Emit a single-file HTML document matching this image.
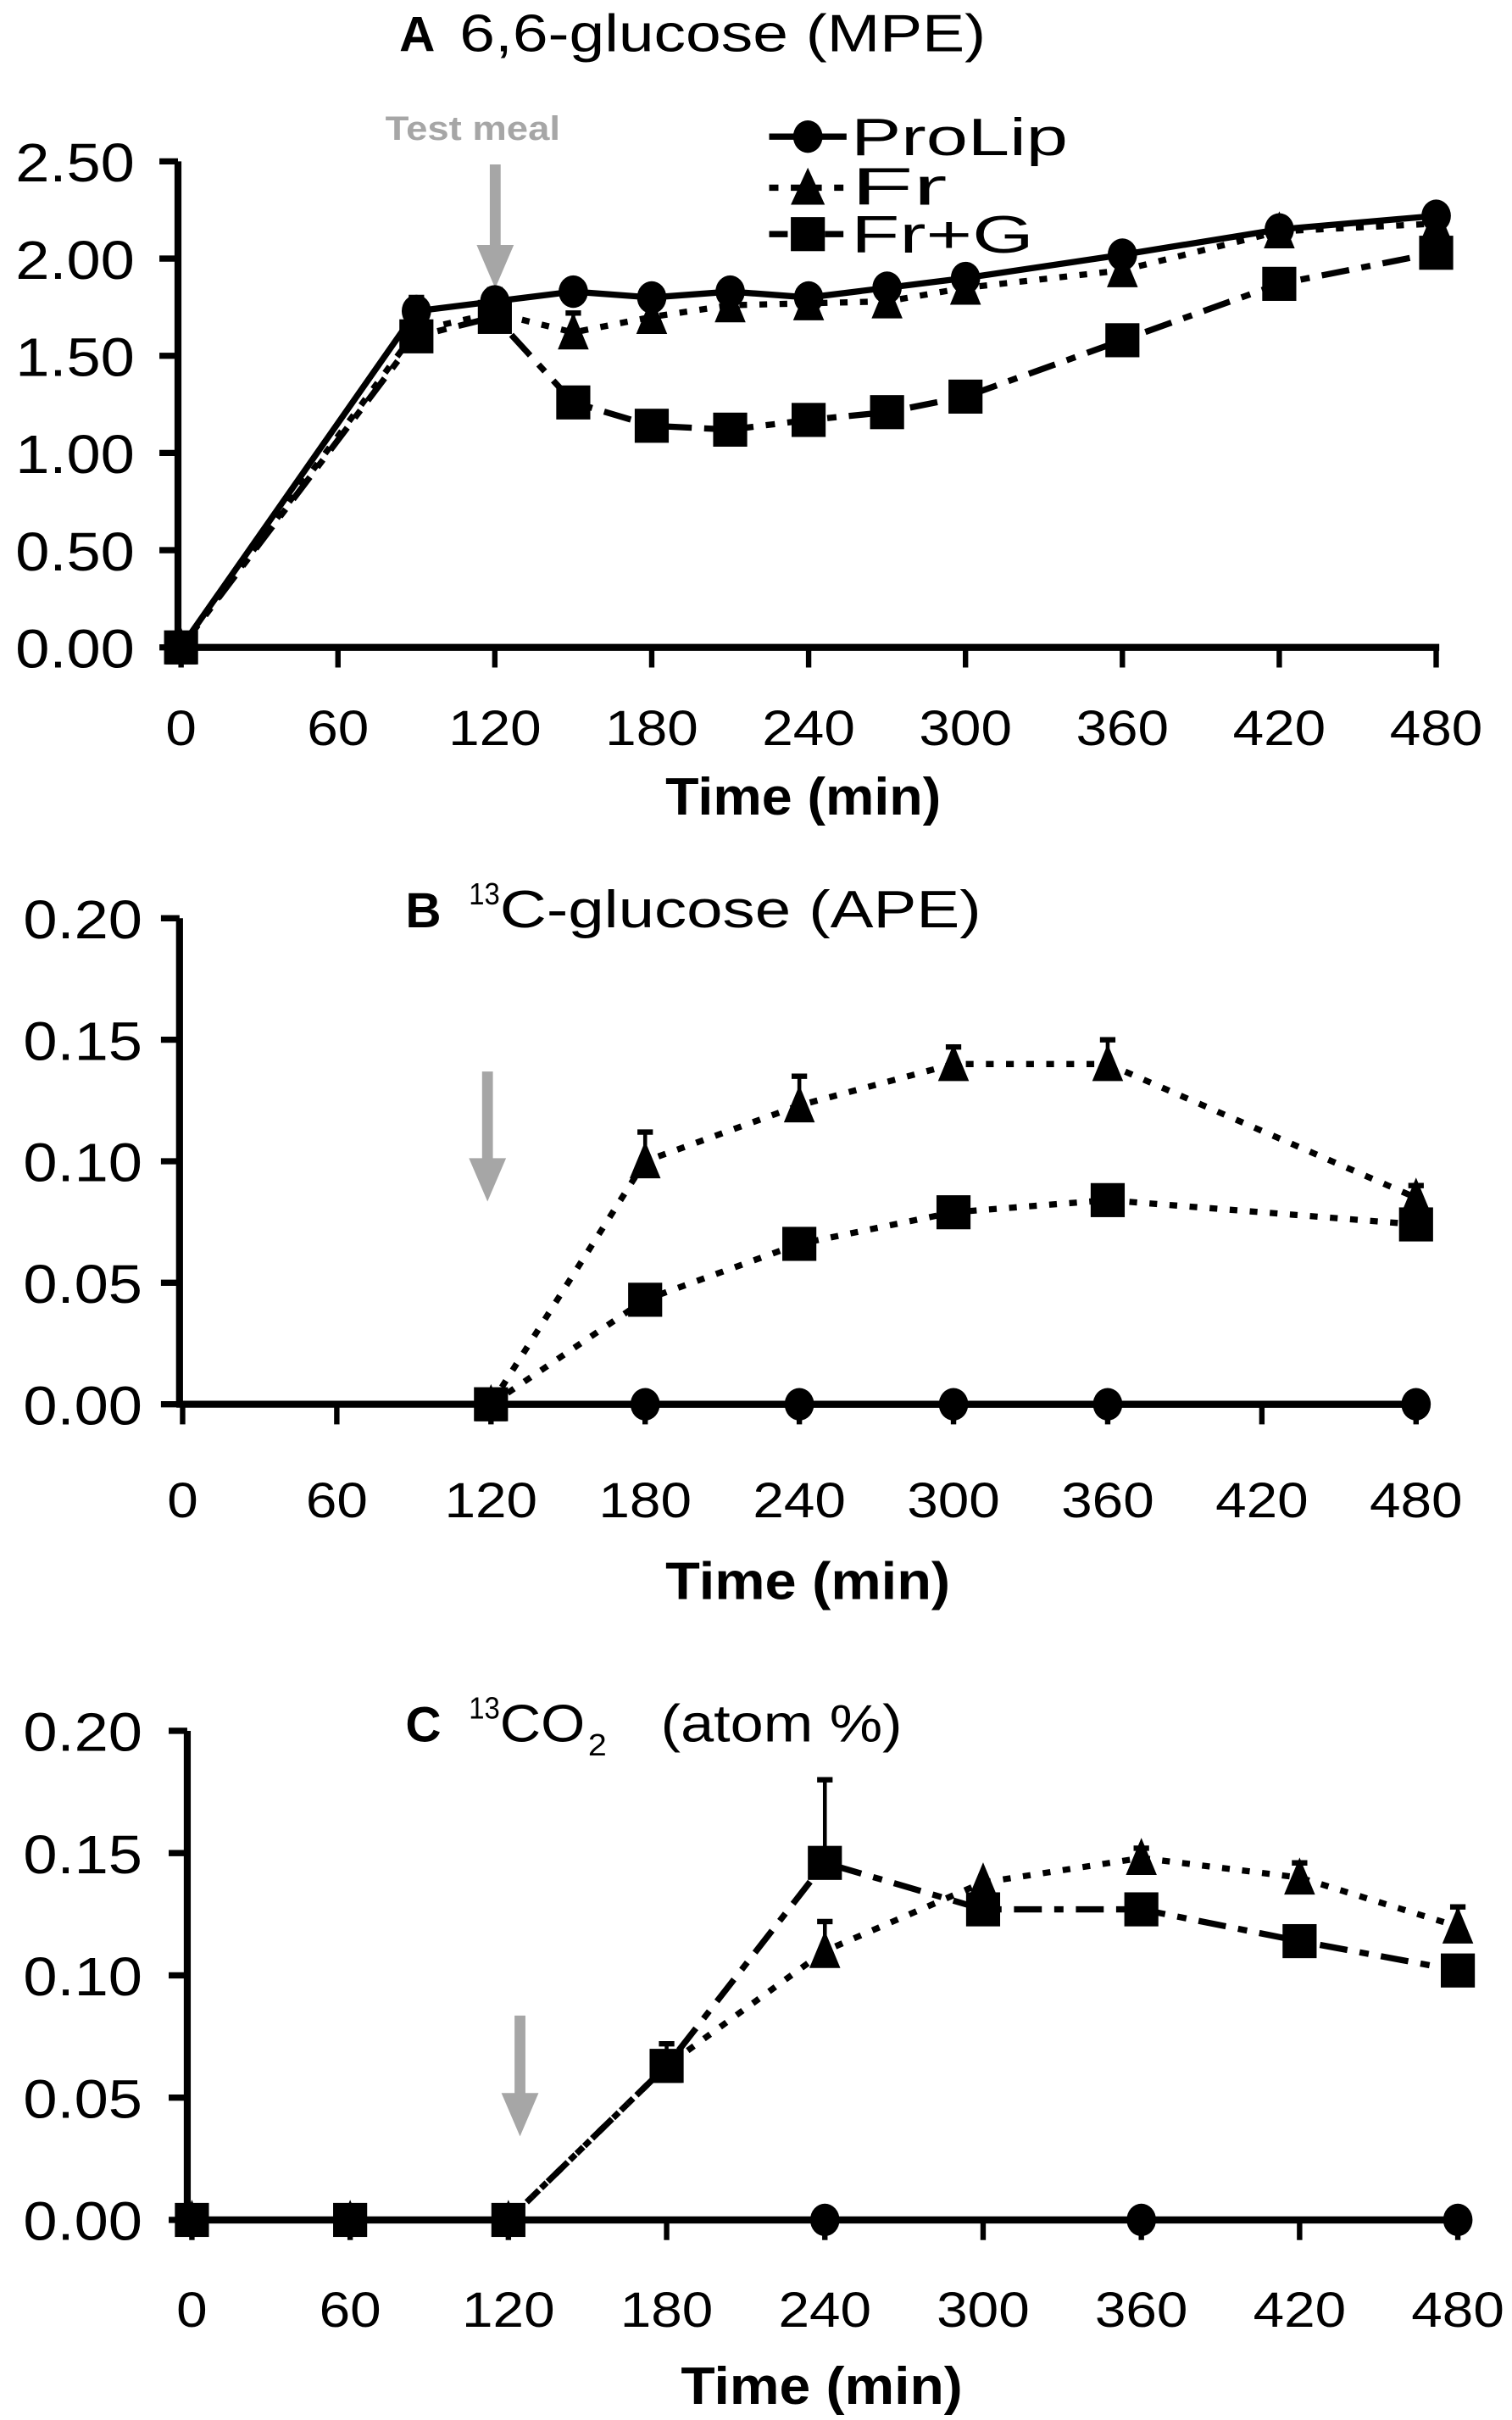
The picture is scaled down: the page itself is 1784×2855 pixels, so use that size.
<!DOCTYPE html>
<html><head><meta charset="utf-8"><style>
html,body{margin:0;padding:0;background:#fff}
svg{display:block}
text{font-family:"Liberation Sans",Arial,sans-serif;fill:#000}
</style></head><body>
<svg id="s" xmlns="http://www.w3.org/2000/svg" width="1784" height="2855" viewBox="0 0 977 1563">
<rect width="977" height="1563" fill="#fff"/>
</svg>
<script>
const S=document.getElementById('s');const NS='http://www.w3.org/2000/svg';
function el(t,a,txt){const e=document.createElementNS(NS,t);for(const k in a)e.setAttribute(k,a[k]);if(txt!==undefined)e.textContent=txt;S.appendChild(e);return e;}
function tx(x,y,s,size,len,extra){const a={x:x,y:y,'font-size':size};if(len){a.textLength=len;a.lengthAdjust='spacingAndGlyphs';}Object.assign(a,extra||{});return el('text',a,s);}
function panel(p){
 const X=t=>p.x0+t*(p.x1-p.x0)/480, Y=v=>p.y0-v*(p.y0-p.yTop)/p.vmax;
 el('line',{x1:p.ax,y1:p.yTop,x2:p.ax,y2:p.y0,stroke:'#000','stroke-width':4.5});
 el('line',{x1:p.ax-2,y1:p.y0,x2:p.x1+2,y2:p.y0,stroke:'#000','stroke-width':4.5});
 p.yt.forEach(v=>{el('line',{x1:p.ax-12,y1:Y(v),x2:p.ax,y2:Y(v),stroke:'#000','stroke-width':4});
  tx(p.lx,Y(v)+13,v.toFixed(2),35,77);});
 for(let t=0;t<=480;t+=60){el('line',{x1:X(t),y1:p.y0,x2:X(t),y2:p.y0+13,stroke:'#000','stroke-width':3.5});
  const s=String(t);const w=s.length*20;tx(X(t)-w/2,p.xl,s,32,w);}
 tx(p.tx0,p.tl,'Time (min)',34,p.tw,{'font-weight':'bold'});
 el('line',{x1:p.arx,y1:p.ar0,x2:p.arx,y2:p.ar1-24,stroke:'#a6a6a6','stroke-width':7});
 el('polygon',{points:`${p.arx-12},${p.ar1-28} ${p.arx+12},${p.ar1-28} ${p.arx},${p.ar1}`,fill:'#a6a6a6'});
 p.series.forEach(s=>{
  const pts=s.d.map(d=>[X(d[0]),Y(d[1])]);
  el('polyline',{points:pts.map(q=>q.join(',')).join(' '),fill:'none',stroke:'#000','stroke-width':s.w||4,'stroke-dasharray':s.dash||'none'});
  s.d.forEach((d,i)=>{const [x,y]=pts[i];
   if(d[2]!==undefined){const ye=Y(d[2]);el('line',{x1:x,y1:y,x2:x,y2:ye,stroke:'#000','stroke-width':2.5});el('line',{x1:x-5,y1:ye,x2:x+5,y2:ye,stroke:'#000','stroke-width':3.5});}
   if(s.m==='c')el('ellipse',{cx:x,cy:y,rx:9.5,ry:10.5,fill:'#000'});
   if(s.m==='t')el('polygon',{points:`${x},${y-13} ${x-10},${y+11} ${x+10},${y+11}`,fill:'#000'});
   if(s.m==='s')el('rect',{x:x-11,y:y-11,width:22,height:22,fill:'#000'});
  });
 });
}
const DOT='5 8',DD='18 8 6 8';
panel({ax:115,x0:117,x1:928,y0:418,yTop:104,vmax:2.5,yt:[0,0.5,1,1.5,2,2.5],lx:10,xl:481,tl:526,tx0:430,tw:178,arx:320,ar0:106,ar1:186,
 series:[
 {m:'s',dash:DD,d:[[0,0],[90,1.60],[120,1.70],[150,1.26],[180,1.14],[210,1.12],[240,1.17],[270,1.21],[300,1.29],[360,1.58],[420,1.87],[480,2.03]]},
 {m:'t',dash:DOT,d:[[0,0],[90,1.63],[120,1.72],[150,1.62,1.72],[180,1.70],[210,1.76],[240,1.77],[270,1.78],[300,1.85],[360,1.94],[420,2.14],[480,2.18]]},
 {m:'c',d:[[0,0],[90,1.73,1.80],[120,1.78,1.84],[150,1.83],[180,1.80],[210,1.83],[240,1.80],[270,1.85],[300,1.90],[360,2.02],[420,2.15,2.19],[480,2.22,2.27]]}
 ]});
tx(258,33,'A',32,null,{'font-weight':'bold'});
tx(297,33,'6,6-glucose (MPE)',34,340);
tx(249,90,'Test meal',22,113,{'font-weight':'bold',style:'fill:#a6a6a6'});
el('line',{x1:497,y1:88,x2:547,y2:88,stroke:'#000','stroke-width':4});el('ellipse',{cx:522,cy:88,rx:9.5,ry:10.5,fill:'#000'});
tx(550,100,'ProLip',34,140);
el('line',{x1:497,y1:121,x2:547,y2:121,stroke:'#000','stroke-width':4,'stroke-dasharray':'6 8'});el('polygon',{points:'522,108 511,132 533,132',fill:'#000'});
tx(550,132,'Fr',34,62);
el('line',{x1:497,y1:151,x2:547,y2:151,stroke:'#000','stroke-width':4,'stroke-dasharray':'12 6'});el('rect',{x:511,y:140,width:22,height:22,fill:'#000'});
tx(550,163,'Fr+G',34,118);
panel({ax:116,x0:118,x1:915,y0:907,yTop:593,vmax:0.2,yt:[0,0.05,0.1,0.15,0.2],lx:15,xl:980,tl:1033,tx0:430,tw:184,arx:315,ar0:692,ar1:776,
 series:[
 {m:'c',w:4.5,d:[[120,0],[180,0],[240,0],[300,0],[360,0],[480,0]]},
 {m:'s',dash:DOT,d:[[120,0],[180,0.043],[240,0.066],[300,0.079],[360,0.084],[480,0.074]]},
 {m:'t',dash:DOT,d:[[120,0],[180,0.100,0.112],[240,0.123,0.135],[300,0.140,0.147],[360,0.140,0.150],[480,0.085,0.090]]}
 ]});
tx(262,599,'B',32,null,{'font-weight':'bold'});
tx(303,584,'13',20,20);tx(323,599,'C-glucose (APE)',34,311);
panel({ax:121,x0:124,x1:942,y0:1434,yTop:1118,vmax:0.2,yt:[0,0.05,0.1,0.15,0.2],lx:15,xl:1503,tl:1553,tx0:440,tw:182,arx:336,ar0:1302,ar1:1380,
 series:[
 {m:'c',w:4.5,d:[[0,0],[240,0],[360,0],[480,0]]},
 {m:'t',dash:DOT,d:[[0,0],[60,0],[120,0],[180,0.063],[240,0.110,0.122],[300,0.138],[360,0.148,0.152],[420,0.140,0.146],[480,0.120,0.128]]},
 {m:'s',dash:DD,d:[[0,0],[60,0],[120,0],[180,0.063,0.072],[240,0.146,0.180],[300,0.127],[360,0.127],[420,0.114],[480,0.102]]}
 ]});
tx(262,1125,'C',32,null,{'font-weight':'bold'});
tx(303,1110,'13',20,20);tx(323,1125,'CO',34,55);
tx(380,1134,'2',20,12);tx(427,1125,'(atom %)',34,156);
</script>
</body></html>
